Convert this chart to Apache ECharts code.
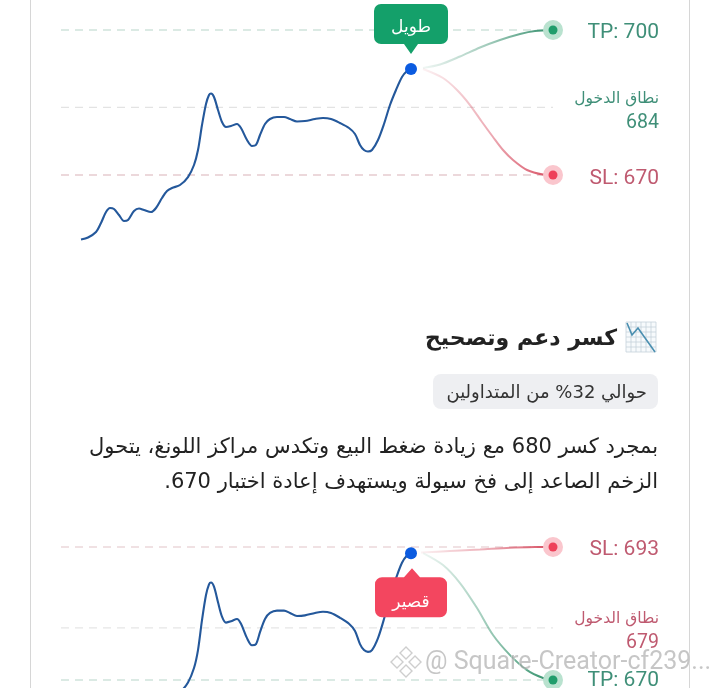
<!DOCTYPE html>
<html>
<head>
<meta charset="utf-8">
<style>html,body{margin:0;padding:0;background:#fff}#c{width:720px;height:688px}</style>
<script src="https://cdn.jsdelivr.net/npm/echarts@6/dist/echarts.min.js"></script>
</head>
<body>
<div id="c" dir="rtl"></div>
<script>
// history (time, price), same trace in both panels
const historyTime = [0,7,15,20,25,29,33,38,43,47,53,58,63,70,75,81,86,91,99,107,113,117,121,125,128,130,133,137,141,145,150,156,160,166,171,175,179,184,189,196,203,209,216,224,234,242,250,259,268,274,279,283,287,291,297,303,309,315,321,326,330];
const historyPrice = [656.65,657.07,658.2,660.07,662.34,663.17,662.96,661.72,660.48,660.69,662.55,663.07,662.76,662.34,663.17,665.24,666.69,667.31,667.93,669.58,672.07,675.17,680.34,684.69,686.55,686.86,686.14,683.45,680.96,679.93,680.14,680.55,679.72,677.24,676,676.21,678.27,680.55,681.59,682,682,681.59,681.07,681.17,681.59,681.8,681.59,680.76,679.72,678.48,676.21,675.17,674.86,675.17,677.24,680.55,684.48,687.59,690.28,691.52,691.93];
const entryTime = 330, endTime = 472, startTime = -20;

// long panel
const longTpTime = [342,359,379,399,419,439,454,472];
const longTpPrice = [692.14,692.86,694.52,696.38,697.93,699.17,699.79,700];
const longSlTime = [342,362,376,389,401,412,422,432,446,462,472];
const longSlPrice = [691.93,690.07,687.59,684.48,680.96,677.86,675.17,673.1,671.03,670.1,670];
const longLevels = {tp:700, entry:684, sl:670};

// short panel
const shortSlTime = [340,369,399,429,454,472];
const shortSlPrice = [692.05,692.31,692.57,692.86,692.98,693];
const shortTpTime = [342,362,379,396,412,429,446,462,472];
const shortTpPrice = [691.96,689.89,686.77,682.45,677.78,674.31,671.72,670.35,670];
const shortLevels = {sl:693, entry:679, tp:670};

const zip = (a,b)=>a.map((v,i)=>[v,b[i]]);
const GREEN='#1f9d6b', RED='#ee4059', BLUE='#0b5be0', LINE='#24589b';
const FONT='"DejaVu Sans","Noto Sans",sans-serif', LATIN='Roboto,"Noto Sans",sans-serif';

function fade(rgb){
  return {type:'linear',x:0,y:0,x2:1,y2:0,colorStops:[
    {offset:0,color:'rgba('+rgb+',0.06)'},{offset:.5,color:'rgba('+rgb+',0.45)'},{offset:1,color:'rgba('+rgb+',1)'}]};
}
function dash(g,level,color,z){
  return {type:'line',xAxisIndex:g,yAxisIndex:g,data:[[startTime,level],[endTime,level]],symbol:'none',silent:true,
    lineStyle:{color:color,width:1.3,type:[8,6]},z:z||1,animation:false,clip:false};
}
function hist(g){
  return {type:'line',xAxisIndex:g,yAxisIndex:g,data:zip(historyTime,historyPrice),smooth:.3,symbol:'none',
    lineStyle:{color:LINE,width:2.1},z:4,animation:false,clip:false};
}
function curve(g,t,p,rgb){
  return {type:'line',xAxisIndex:g,yAxisIndex:g,data:zip(t,p),smooth:.3,symbol:'none',
    lineStyle:{color:fade(rgb),width:2},z:3,animation:false,clip:false};
}
function dot(g,t,p,size,color,z,extra){
  return Object.assign({type:'scatter',xAxisIndex:g,yAxisIndex:g,data:[[t,p]],symbolSize:size,
    itemStyle:{color:color,opacity:1},z:z,animation:false,silent:true,clip:false},extra||{});
}
const TAG_DOWN='path://M7 0H67A7 7 0 0 1 74 7V33A7 7 0 0 1 67 40H44L37 50L30 40H7A7 7 0 0 1 0 33V7A7 7 0 0 1 7 0Z';
const TAG_UP='path://M37 0L45 9H65A7 7 0 0 1 72 16V42A7 7 0 0 1 65 49H7A7 7 0 0 1 0 42V16A7 7 0 0 1 7 9H29Z';
function tag(g,t,p,text,path,size,off,color,lab){
  return dot(g,t,p,1,'transparent',9,{markPoint:{symbol:path,symbolSize:size,symbolOffset:off,silent:true,animation:false,
    itemStyle:{color:color},
    label:{show:true,formatter:text,position:'inside',offset:lab,color:'#fff',fontFamily:FONT,fontSize:17},
    data:[{coord:[t,p]}]}});
}
function txt(x,y,text,font,color,align){
  return {type:'text',z:20,silent:true,style:{x:x,y:y,text:text,font:font,fill:color,align:align||'right',verticalAlign:'middle'}};
}
const TEAL='#3f8f78', ROSE='#bf5a70';

// decreasing chart icon built from light grid lines
const icon=[{type:'rect',z:10,silent:true,shape:{x:626,y:322,width:30,height:30},style:{fill:'#f7fafc'}}];
for(let i=0;i<=6;i++){
  icon.push({type:'line',z:10,silent:true,shape:{x1:626+i*5,y1:322,x2:626+i*5,y2:352},style:{stroke:'#c5d2da',lineWidth:.8}});
  icon.push({type:'line',z:10,silent:true,shape:{x1:626,y1:322+i*5,x2:656,y2:322+i*5},style:{stroke:'#c5d2da',lineWidth:.8}});
}
icon.push({type:'polyline',z:11,silent:true,shape:{points:[[627,323],[632,335],[638,328],[655,352]]},style:{stroke:'#4a8fb0',lineWidth:1.6,fill:'none'}});

// watermark mark: four small diamonds
const wm=[[406,653],[397,662],[415,662],[406,671]].map(c=>({type:'polygon',z:30,silent:true,
  shape:{points:[[c[0],c[1]-6],[c[0]+6,c[1]],[c[0],c[1]+6],[c[0]-6,c[1]]]},
  style:{fill:'none',stroke:'rgba(185,185,185,.7)',lineWidth:1.4}}));

const option={
  backgroundColor:'#fff',
  animation:false,
  grid:[
    {left:61,width:492,top:30,height:241.67,outerBoundsMode:'none'},
    {left:61,width:492,top:547,height:190.83,outerBoundsMode:'none'}
  ],
  xAxis:[0,1].map(i=>({gridIndex:i,type:'value',min:startTime,max:endTime,show:false})),
  yAxis:[
    {gridIndex:0,type:'value',min:650,max:700,show:false},
    {gridIndex:1,type:'value',min:660,max:693,show:false}
  ],
  series:[
    dash(0,longLevels.tp,'#cfe3dc'),dash(0,longLevels.entry,'#e3e3e3'),dash(0,longLevels.sl,'#e6ccd0'),
    hist(0),curve(0,longTpTime,longTpPrice,'48,140,105'),curve(0,longSlTime,longSlPrice,'215,75,95'),
    dot(0,entryTime,691.93,12,BLUE,8),
    dot(0,endTime,longLevels.tp,20,'#b9e2cf',6),dot(0,endTime,longLevels.tp,9,GREEN,7),
    dot(0,endTime,longLevels.sl,20,'#fac6cd',6),dot(0,endTime,longLevels.sl,9,RED,7),
    tag(0,entryTime,691.93,'طويل',TAG_DOWN,[74,50],[0,-40],'#14a06a',[0,-1]),

    dash(1,shortLevels.sl,'#ecd7da'),dash(1,shortLevels.entry,'#e6e6e6'),dash(1,shortLevels.tp,'#cfe3dc'),
    hist(1),curve(1,shortSlTime,shortSlPrice,'215,75,95'),curve(1,shortTpTime,shortTpPrice,'40,140,100'),
    dot(1,entryTime,691.93,12,BLUE,8),
    dot(1,endTime,shortLevels.sl,20,'#fac6cd',6),dot(1,endTime,shortLevels.sl,9,RED,7),
    dot(1,endTime,shortLevels.tp,20,'#b9e2cf',6),dot(1,endTime,shortLevels.tp,9,GREEN,7),
    tag(1,entryTime,691.93,'قصير',TAG_UP,[72,49],[0,39.5],'#f3465f',[0,10])
  ],
  graphic:{elements:[
    {type:'line',silent:true,shape:{x1:30.5,y1:0,x2:30.5,y2:688},style:{stroke:'#d6d6d6',lineWidth:1}},
    {type:'line',silent:true,shape:{x1:689.5,y1:0,x2:689.5,y2:688},style:{stroke:'#d6d6d6',lineWidth:1}},

    txt(659,32.5,'TP: 700','21px '+LATIN,TEAL),
    txt(659,99,'نطاق الدخول','15.5px '+FONT,TEAL),
    txt(659,123,'684','19.5px '+LATIN,TEAL),
    txt(659,178.5,'SL: 670','21px '+LATIN,ROSE),

    ...icon,
    txt(617,339,'كسر دعم وتصحيح','bold 22px '+FONT,'#222'),
    {type:'rect',silent:true,shape:{x:433,y:374,width:225,height:35,r:8},style:{fill:'#eeeff2'}},
    txt(647,393,'حوالي 32% من المتداولين','18px '+FONT,'#333'),
    txt(658,448,'بمجرد كسر 680 مع زيادة ضغط البيع وتكدس مراكز اللونغ، يتحول','21px '+FONT,'#222'),
    txt(658,483,'الزخم الصاعد إلى فخ سيولة ويستهدف إعادة اختبار 670.','21px '+FONT,'#222'),

    txt(659,549.5,'SL: 693','21px '+LATIN,ROSE),
    txt(659,619,'نطاق الدخول','15.5px '+FONT,ROSE),
    txt(659,643,'679','19.5px '+LATIN,ROSE),
    txt(659,681,'TP: 670','21px '+LATIN,TEAL),

    ...wm,
    {type:'text',z:30,silent:true,style:{x:425,y:663,text:'\u202A@ Square-Creator-cf239...\u202C',font:'25px '+LATIN,fill:'rgba(160,160,160,.6)',
      stroke:'rgba(255,255,255,.5)',lineWidth:1,align:'left',verticalAlign:'middle'}}
  ]}
};
const chart=echarts.init(document.getElementById('c'),null,{renderer:'canvas',width:720,height:688});
chart.setOption(option);
</script>
</body>
</html>
